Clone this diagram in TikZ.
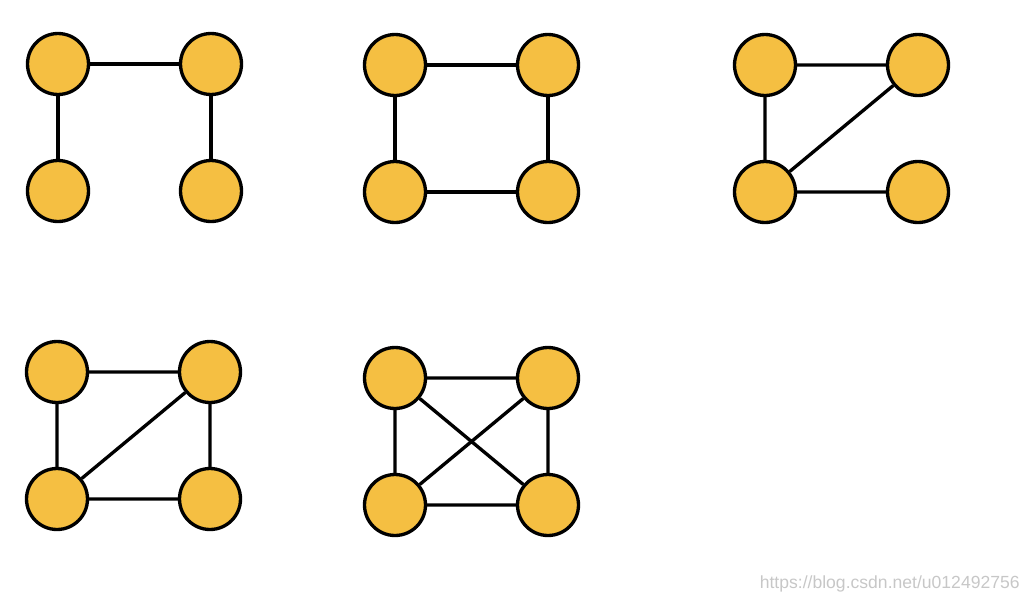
\documentclass[tikz,border=0pt]{standalone}
\usepackage{fontspec}
\setmainfont{Liberation Sans}
\begin{document}
\begin{tikzpicture}[x=0.02cm,y=-0.02cm,
  v/.style={circle,draw=black,line width=1.9pt,fill={rgb,255:red,245;green,191;blue,66},minimum size=1.22cm,inner sep=0pt},
  e/.style={line width=1.9pt}]
\useasboundingbox (0,0) rectangle (1028,602);
\foreach \g/\x/\y in {a/58/64,b/395/65,c/765/65,d/57/372,f/395/378}{
  \coordinate (\g tl) at (\x,\y);
}
% graph 1
\node[v] (a1) at (58,64) {}; \node[v] (a2) at (211,64) {};
\node[v] (a3) at (58,191) {}; \node[v] (a4) at (211,191) {};
\draw[e] (a1)--(a2) (a1)--(a3) (a2)--(a4);
% graph 2
\node[v] (b1) at (395,65) {}; \node[v] (b2) at (548,65) {};
\node[v] (b3) at (395,192) {}; \node[v] (b4) at (548,192) {};
\draw[e] (b1)--(b2) (b1)--(b3) (b2)--(b4) (b3)--(b4);
% graph 3
\node[v] (c1) at (765,65) {}; \node[v] (c2) at (918,65) {};
\node[v] (c3) at (765,192) {}; \node[v] (c4) at (918,192) {};
\draw[e] (c1)--(c2) (c1)--(c3) (c3)--(c2) (c3)--(c4);
% graph 4
\node[v] (d1) at (57,372) {}; \node[v] (d2) at (210,372) {};
\node[v] (d3) at (57,499) {}; \node[v] (d4) at (210,499) {};
\draw[e] (d1)--(d2) (d1)--(d3) (d3)--(d2) (d2)--(d4) (d3)--(d4);
% graph 5
\node[v] (f1) at (395,378) {}; \node[v] (f2) at (548,378) {};
\node[v] (f3) at (395,505) {}; \node[v] (f4) at (548,505) {};
\draw[e] (f1)--(f2) (f1)--(f3) (f2)--(f4) (f3)--(f4) (f1)--(f4) (f2)--(f3);
\node[anchor=east,text=black!22,font=\fontsize{10}{12}\selectfont,inner sep=0pt] (wm) at (1020,584) {https://blog.csdn.net/u012492756};
\end{tikzpicture}
\end{document}
